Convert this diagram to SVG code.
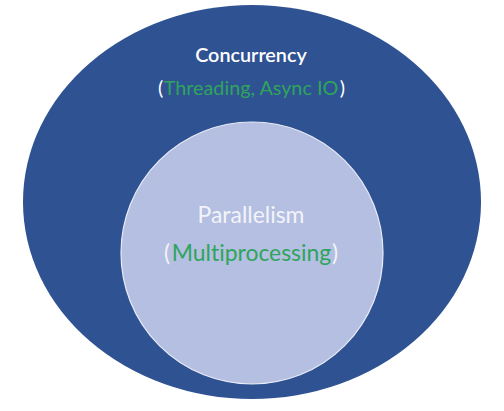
<svg xmlns="http://www.w3.org/2000/svg" width="504" height="411" viewBox="0 0 504 411">
<style>
.t{font-family:Lato,"Open Sans","Liberation Sans",sans-serif;text-anchor:middle;font-variant-ligatures:none}
.c{font-size:19.8px}
.p{font-size:22.9px}
.s{text-anchor:start}
.e{text-anchor:end}
.b{font-weight:600}
.w{fill:#ffffff}
.g{fill:#2ea55c}
.pw{fill:#f2f4fa}
</style>
<rect width="504" height="411" fill="#ffffff"/>
<g id="concurrency">
<ellipse cx="252" cy="202" rx="229" ry="197" fill="#2f5292"/>
<text class="t c b w" x="251" y="62">Concurrency</text>
<text class="t c s w" x="158" y="95">(</text>
<text class="t c g" x="251" y="95">Threading, Async IO</text>
<text class="t c e w" x="345" y="95">)</text>
</g>
<g id="parallelism">
<circle cx="252" cy="253" r="131" fill="#b5bfe1" stroke="#e8ecf6" stroke-width="1.2"/>
<text class="t p pw" x="251" y="223">Parallelism</text>
<text class="t p s pw" x="164" y="261">(</text>
<text class="t p g" x="251.5" y="261">Multiprocessing</text>
<text class="t p e pw" x="338" y="261">)</text>
</g>
<g id="connectors"/>
</svg>
